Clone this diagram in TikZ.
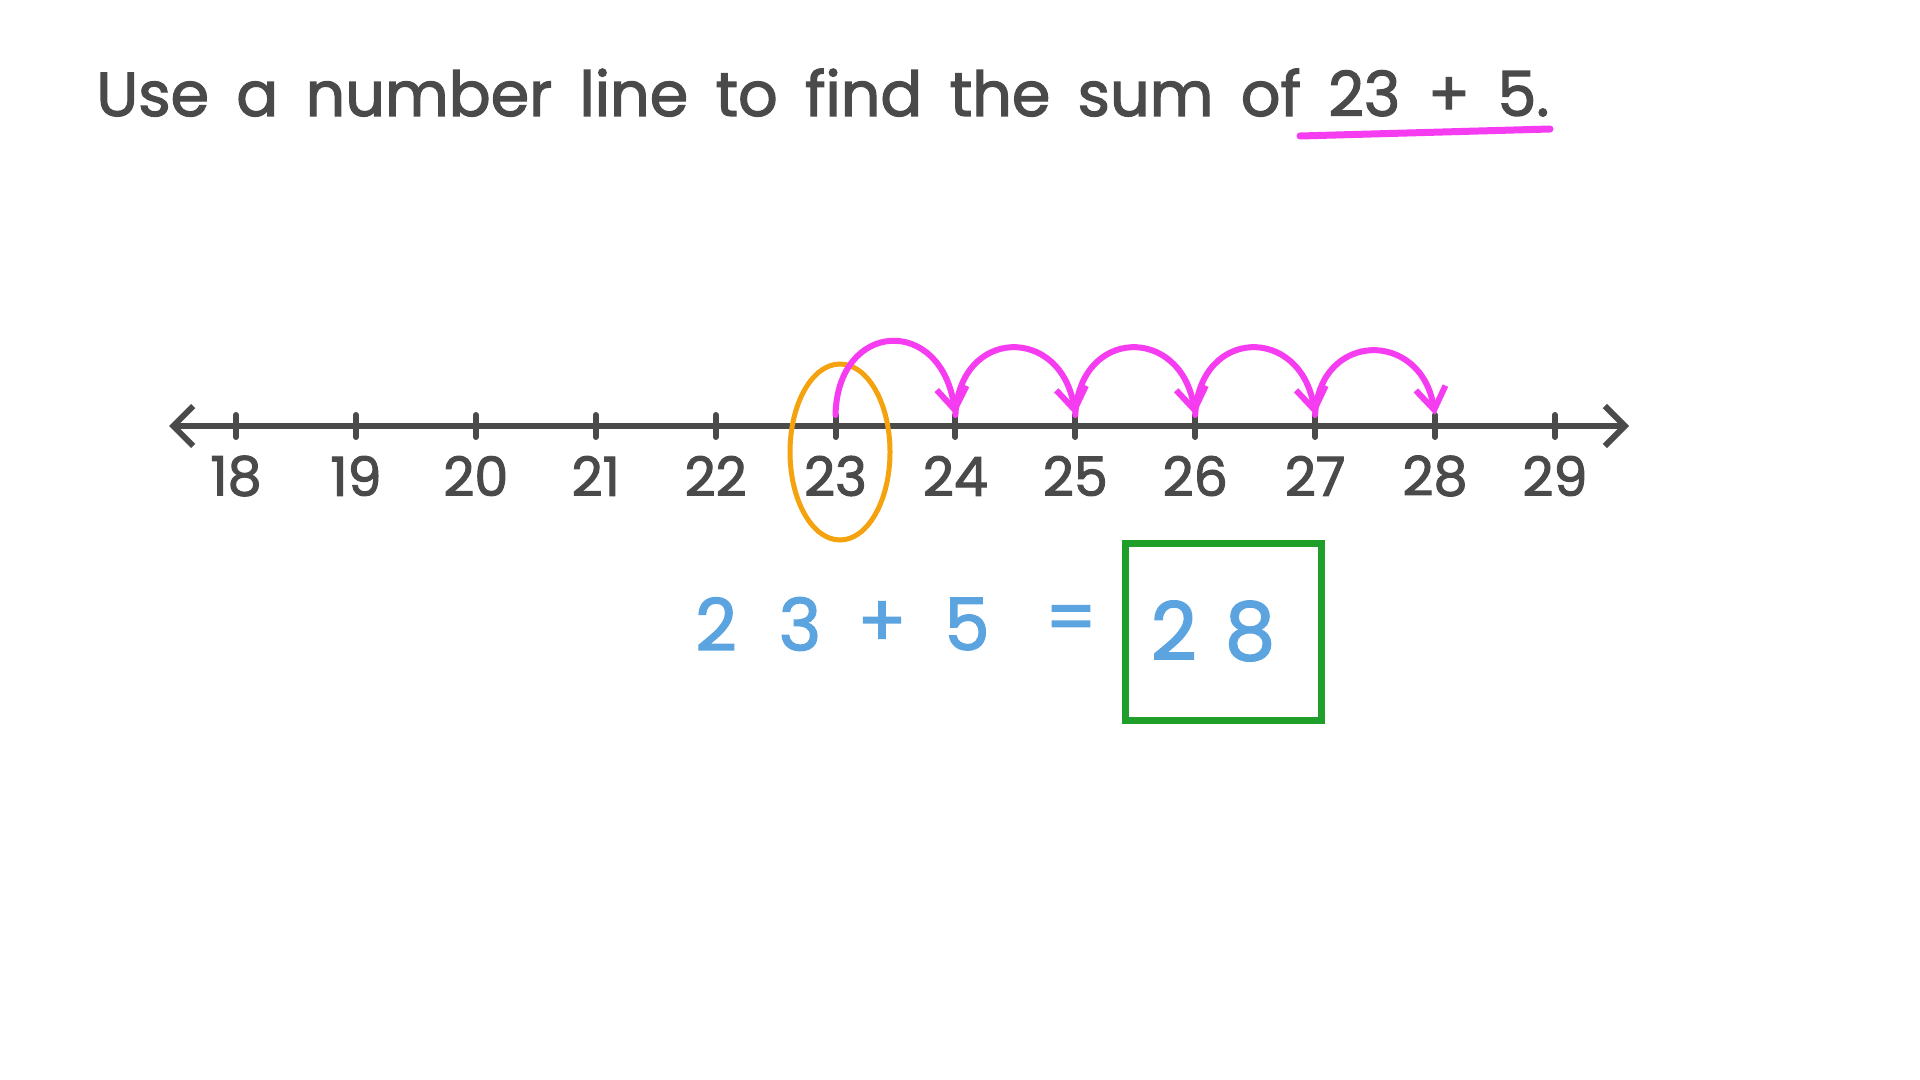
\documentclass[tikz,border=0pt]{standalone}
\usepackage{fontspec}
\setmainfont{Poppins}
\newfontfamily\handfont{Poppins}[FakeBold=2]
\newfontfamily\titlefont{Poppins}[FakeBold=2, WordSpace=1.65]
\usetikzlibrary{arrows.meta,shapes.geometric}
\definecolor{ink}{HTML}{4A4A4A}
\definecolor{mag}{HTML}{F53CF0}
\definecolor{org}{HTML}{F4A20E}
\definecolor{sky}{HTML}{5BA4E0}
\definecolor{grn}{HTML}{1F9E2A}
\tikzset{
  axis/.style={draw=ink, line width=3pt, line cap=round},
  tickmark/.style={draw=ink, line width=3pt, line cap=round},
  numlab/.style={text=ink, font=\handfont\fontsize{27}{30}\selectfont, inner sep=0pt},
  jump/.style={draw=mag, line width=3pt, line cap=round, -{Straight Barb[length=11pt,width=15pt,line width=3pt]}},
  eqtxt/.style={text=sky, font=\handfont\fontsize{36}{40}\selectfont, inner sep=0pt},
}
\begin{document}
\begin{tikzpicture}[x=0.5pt,y=-0.5pt]
\useasboundingbox[fill=white] (0,0) rectangle (1920,1080);
% title
\node[anchor=base west, text=ink, inner sep=0pt, font=\titlefont\fontsize{31}{34}\selectfont] (title) at (96,116)
  {Use a number line to find the sum of 23 + 5.};
\coordinate (ulA) at (1300,136);
\coordinate (ulB) at (1550,129);
\draw[draw=mag, line width=3.5pt, line cap=round] (ulA) -- (ulB);
% number line
\coordinate (L) at (169,426);
\coordinate (R) at (1629,426);
\draw[axis, {Straight Barb[length=10pt,width=20pt,line width=3pt]}-{Straight Barb[length=10pt,width=20pt,line width=3pt]}] (L) -- (R);
\foreach \n [count=\i from 0] in {18,...,29} {
  \pgfmathsetmacro{\xx}{236+119.9*\i}
  \coordinate (t\n) at (\xx,426);
  \coordinate (tt\n) at (\xx,415);
  \draw[tickmark] (\xx,415) -- (\xx,437);
  \node[numlab] (l\n) at (\xx,476) {\n};
}
% circle around 23
\node[draw=org, line width=2.5pt, ellipse, minimum width=50pt, minimum height=88pt, inner sep=0pt] (circ) at (840,452) {};
% jumps
\draw[jump] (tt23) .. controls ++(2,-95) and ++(-14,-100) .. (tt24);
\draw[jump] (tt24) .. controls ++(4,-88) and ++(-14,-90) .. (tt25);
\draw[jump] (tt25) .. controls ++(4,-88) and ++(-14,-90) .. (tt26);
\draw[jump] (tt26) .. controls ++(4,-88) and ++(-14,-90) .. (tt27);
\draw[jump] (tt27) .. controls ++(4,-84) and ++(-14,-86) .. (tt28);
% equation
\node[eqtxt] (e2) at (716,624) {2};
\node[eqtxt] (e3) at (800,624) {3};
\node[eqtxt] (eplus) at (882,624) {+};
\node[eqtxt] (e5) at (967,624) {5};
\node[eqtxt] (eeq) at (1071,624) {=};
\node[draw=grn, line width=3.5pt, minimum width=98pt, minimum height=88.5pt, inner sep=0pt] (box) at (1223,632) {};
\node[eqtxt, font=\handfont\fontsize{40}{44}\selectfont] (ans) at (1213,631) {2\hspace{14pt}8};
\end{tikzpicture}
\end{document}
